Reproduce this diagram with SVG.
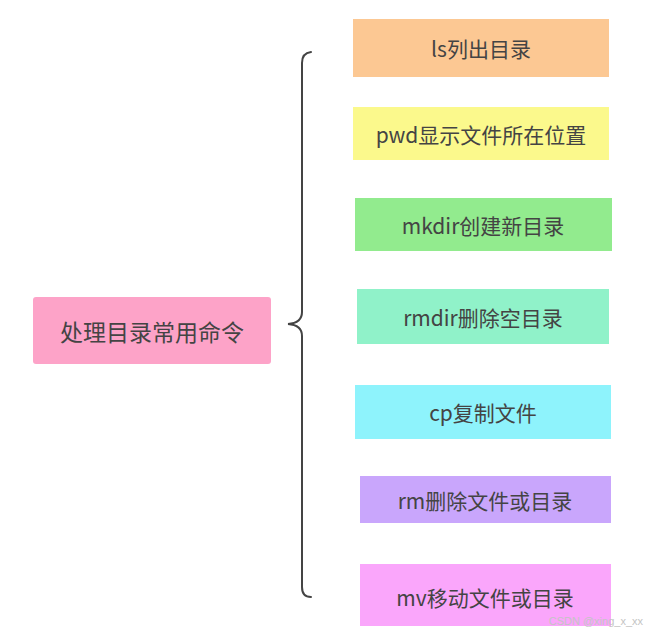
<svg xmlns="http://www.w3.org/2000/svg" width="650" height="639" viewBox="0 0 650 639">
<style>
.t{font-family:"Noto Sans CJK SC","Noto Sans",sans-serif;font-size:21px;fill:#444;text-anchor:middle;dominant-baseline:central}
.c{fill:none;stroke:#444;stroke-width:2;stroke-linecap:round}
</style>
<rect width="650" height="639" fill="#fff"/>
<g id="connectors">
<path class="c" d="M311,52 Q302,53 302,63 L302,312 Q302,323 288,324 Q302,325 302,336 L302,587 Q302,597 311,597"/>
</g>
<g id="root"><rect x="33" y="297" width="238" height="67" rx="3" fill="#FDA3C8"/><text class="t" x="152" y="331" style="font-size:23px">处理目录常用命令</text></g>
<g id="n1"><rect x="353" y="19" width="256" height="58" fill="#FCC893"/><text class="t" x="481" y="48">ls列出目录</text></g>
<g id="n2"><rect x="353" y="107" width="256" height="53" fill="#FBF98C"/><text class="t" x="481" y="134">pwd显示文件所在位置</text></g>
<g id="n3"><rect x="355" y="198" width="257" height="53" fill="#92EB8E"/><text class="t" x="483" y="225">mkdir创建新目录</text></g>
<g id="n4"><rect x="357" y="289" width="252" height="55" fill="#90F2C9"/><text class="t" x="483" y="317">rmdir删除空目录</text></g>
<g id="n5"><rect x="355" y="385" width="256" height="54" fill="#8EF3FC"/><text class="t" x="483" y="412">cp复制文件</text></g>
<g id="n6"><rect x="360" y="476" width="251" height="47" fill="#C9A6FC"/><text class="t" x="485" y="500">rm删除文件或目录</text></g>
<g id="n7"><rect x="360" y="564" width="251" height="62" fill="#FAA6FB"/><text class="t" x="485" y="597">mv移动文件或目录</text></g>
<text x="643" y="625" font-family="Liberation Sans,sans-serif" font-size="11" fill="#c4c4c4" text-anchor="end">CSDN @xing_x_xx</text>
</svg>
